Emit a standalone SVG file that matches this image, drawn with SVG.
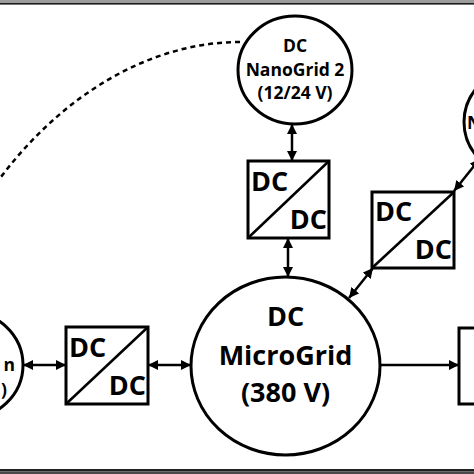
<svg xmlns="http://www.w3.org/2000/svg" width="474" height="474" viewBox="0 0 474 474">
<defs>
<marker id="ah" viewBox="0 0 10 10" markerUnits="userSpaceOnUse" markerWidth="10" markerHeight="10" refX="10" refY="5" orient="auto-start-reverse">
<path d="M0,0 L10,5 L0,10 z" fill="#000"/>
</marker>
<style>
.node{fill:#fff;stroke:#000;stroke-width:3}
.conv{fill:#fff;stroke:#000;stroke-width:3}
.diag{stroke:#000;stroke-width:2.5}
.c{stroke:#000;stroke-width:2.5;fill:none}
.t{font-family:"Open Sans","DejaVu Sans",sans-serif;fill:#000}
.s{font-size:17.5px;font-weight:700;text-anchor:middle}
.b{font-size:27px;font-weight:700;text-anchor:middle}
.dc{font-size:27px;font-weight:700}
</style>
</defs>
<rect x="0" y="0" width="474" height="474" fill="#fff"/>
<rect x="0" y="0" width="474" height="3" fill="#9c9c9c"/>
<rect x="0" y="3" width="474" height="1.6" fill="#1c1c1c"/>
<rect x="0" y="469" width="474" height="2.5" fill="#222"/>
<rect x="0" y="471.5" width="474" height="2.5" fill="#4a4a4a"/>

<g id="connectors">
<path class="c" d="M240,42 C150,42 60,95 -5,185" stroke-width="3" stroke-dasharray="5 4"/>
<line class="c" x1="292" y1="124" x2="292" y2="161" marker-start="url(#ah)" marker-end="url(#ah)"/>
<line class="c" x1="288" y1="238" x2="288" y2="277" marker-start="url(#ah)" marker-end="url(#ah)"/>
<line class="c" x1="479.7" y1="159" x2="454" y2="191" marker-start="url(#ah)" marker-end="url(#ah)"/>
<line class="c" x1="373" y1="268" x2="349" y2="298" marker-start="url(#ah)" marker-end="url(#ah)"/>
<line class="c" x1="23" y1="365" x2="66" y2="365" marker-start="url(#ah)" marker-end="url(#ah)"/>
<line class="c" x1="148" y1="365" x2="191" y2="365" marker-start="url(#ah)" marker-end="url(#ah)"/>
<line class="c" x1="380" y1="365" x2="459" y2="365" marker-end="url(#ah)"/>
</g>

<g id="nanogrid2">
<ellipse class="node" cx="295" cy="70" rx="57" ry="54"/>
<text class="t s" x="295" y="52">DC</text>
<text class="t s" x="295" y="76">NanoGrid 2</text>
<text class="t s" x="295" y="99">(12/24 V)</text>
</g>

<g id="nanogrid-right">
<ellipse class="node" cx="521" cy="122" rx="57" ry="54"/>
<text class="t" x="467" y="129" font-size="17.5" font-weight="700">N</text>
</g>

<g id="nanogrid-left">
<ellipse class="node" cx="-34" cy="365" rx="57" ry="54"/>
<text class="t" x="15" y="371" font-size="17.5" font-weight="700" text-anchor="end">n</text>
<text class="t" x="7" y="396" font-size="17.5" font-weight="700" text-anchor="end">)</text>
</g>

<g id="microgrid">
<ellipse class="node" cx="285.5" cy="366" rx="94.5" ry="89"/>
<text class="t b" x="285.5" y="326">DC</text>
<text class="t b" x="285.5" y="365">MicroGrid</text>
<text class="t b" x="285.5" y="402">(380 V)</text>
</g>

<g id="conv-left">
<rect class="conv" x="66" y="327" width="82" height="77"/>
<line class="diag" x1="66" y1="404" x2="148" y2="327"/>
<text class="t dc" x="69" y="357">DC</text>
<text class="t dc" x="146" y="395" text-anchor="end">DC</text>
</g>

<g id="conv-mid">
<rect class="conv" x="248" y="161" width="81" height="77"/>
<line class="diag" x1="248" y1="238" x2="329" y2="161"/>
<text class="t dc" x="251" y="191">DC</text>
<text class="t dc" x="327" y="229" text-anchor="end">DC</text>
</g>

<g id="conv-right">
<rect class="conv" x="372" y="192" width="82" height="76"/>
<line class="diag" x1="372" y1="268" x2="454" y2="192"/>
<text class="t dc" x="375" y="221">DC</text>
<text class="t dc" x="452" y="259" text-anchor="end">DC</text>
</g>

<g id="load-right">
<rect class="conv" x="459" y="328" width="40" height="76"/>
</g>
</svg>
